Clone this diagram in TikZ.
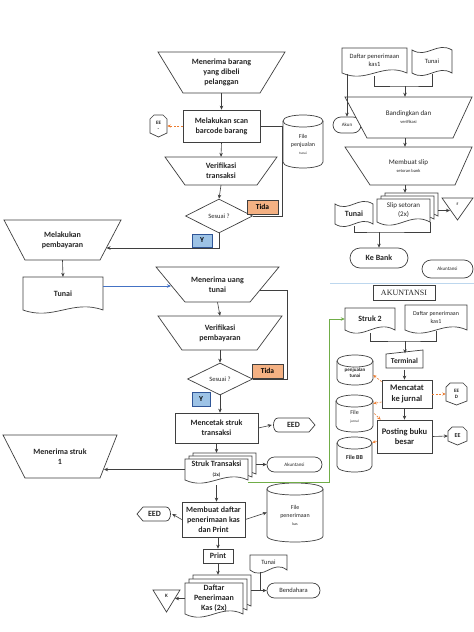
\documentclass[tikz,border=0pt]{standalone}
\usepackage{fontspec}
\setmainfont{Carlito}
\newfontfamily\serifx{Liberation Serif}
\usetikzlibrary{calc,arrows.meta,shapes.geometric,shapes.misc}
\definecolor{lncol}{HTML}{3F3F3F}
\definecolor{orangec}{HTML}{ED7D31}
\definecolor{greenc}{HTML}{70AD47}
\definecolor{bluec}{HTML}{4472C4}
\definecolor{tidac}{HTML}{F4B183}
\definecolor{yfill}{HTML}{9DC3E6}
\definecolor{ybord}{HTML}{2F5597}
\definecolor{sepc}{HTML}{BDD7EE}
\tikzset{
 shp/.style={draw=lncol, line width=0.7pt, fill=white},
 txt/.style={inner sep=0pt, align=center, font=\fontsize{8}{10}\selectfont\bfseries, text=black!85},
 stxt/.style={txt, font=\fontsize{5}{6}\selectfont\bfseries},
 rtxt/.style={txt, font=\fontsize{6.5}{8}\selectfont},
 ctxt/.style={txt, font=\fontsize{6}{8}\selectfont},
 box/.style={shp, txt},
 dia/.style={shp, diamond, inner sep=0pt, align=center, font=\fontsize{6.5}{8}\selectfont, text=black!85},
 term/.style={shp, rounded rectangle, inner sep=0pt, align=center, text=black!85},
 ln/.style={draw=lncol, line width=0.6pt},
 arr/.style={ln, -{Stealth[length=4pt,width=3.5pt]}},
 oarr/.style={draw=orangec, line width=0.6pt, dash pattern=on 2pt off 1.5pt, -{Stealth[length=3.5pt,width=3pt]}},
 garr/.style={draw=greenc, line width=0.9pt, -{Stealth[length=4pt,width=3.5pt]}},
 barr/.style={draw=bluec, line width=0.6pt, -{Stealth[length=4pt,width=3.5pt]}},
 tida/.style={draw=lncol, fill=tidac, line width=0.6pt, inner sep=0pt, font=\fontsize{7.5}{9}\selectfont\bfseries},
 ybox/.style={draw=ybord, fill=yfill, line width=0.6pt, inner sep=0pt, font=\fontsize{7.5}{9}\selectfont\bfseries},
}
% trapezoid: name, xtl, xtr, ytop, xbl, xbr, ybot, style, text
\newcommand\trapz[9]{%
 \draw[shp] (#2,#4) -- (#3,#4) -- (#6,#7) -- (#5,#7) -- cycle;
 \node[txt,#8, minimum width={(#6-#5)*1pt}, minimum height={(#7-#4)*1pt}] (#1) at ({(#2+#3)/2},{(#4+#7)/2}) {#9};}
\newcommand\docpath[4]{%
 \draw[shp] (#1,#2) -- (#3,#2) -- (#3,#4) .. controls ({#1+0.62*(#3-#1)},{#4-11}) and ({#1+0.38*(#3-#1)},{#4+11}) .. (#1,#4) -- cycle;}
\newcommand\docz[7]{%
 \docpath{#2}{#3}{#4}{#5}%
 \node[txt,#6, minimum width={(#4-#2)*1pt}, minimum height={(#5-#3)*1pt}] (#1) at ({(#2+#4)/2},{(#3+#5)/2}) {#7};}
\newcommand\multidoc[9]{%
 \pgfmathsetmacro\mdxa{#2+2*#6}\pgfmathsetmacro\mdya{#3-2*#7}%
 \pgfmathsetmacro\mdxb{#4+2*#6}\pgfmathsetmacro\mdyb{#5-2*#7}%
 \docpath{\mdxa}{\mdya}{\mdxb}{\mdyb}%
 \pgfmathsetmacro\mdxa{#2+#6}\pgfmathsetmacro\mdya{#3-#7}%
 \pgfmathsetmacro\mdxb{#4+#6}\pgfmathsetmacro\mdyb{#5-#7}%
 \docpath{\mdxa}{\mdya}{\mdxb}{\mdyb}%
 \docz{#1}{#2}{#3}{#4}{#5}{#8}{#9}}
\newcommand\tapez[7]{%
 \draw[shp] (#2,#3) .. controls ({#2+0.38*(#4-#2)},{#3+9}) and ({#2+0.62*(#4-#2)},{#3-9}) .. (#4,#3) -- (#4,#5) .. controls ({#2+0.62*(#4-#2)},{#5-9}) and ({#2+0.38*(#4-#2)},{#5+9}) .. (#2,#5) -- cycle;
 \node[txt,#6, minimum width={(#4-#2)*1pt}, minimum height={(#5-#3)*1pt}] (#1) at ({(#2+#4)/2},{(#3+#5)/2}) {#7};}
% cylinder: ellipse half-height 6 drawn with curves
\newcommand\cylz[7]{%
 \draw[shp] (#2,#3+6) -- (#2,#5-6) .. controls (#2,#5+2) and (#4,#5+2) .. (#4,#5-6) -- (#4,#3+6) .. controls (#4,#3-2) and (#2,#3-2) .. (#2,#3+6) -- cycle;
 \draw[shp, fill=none] (#2,#3+6) .. controls (#2,#3+14) and (#4,#3+14) .. (#4,#3+6);
 \node[txt,#6, minimum width={(#4-#2)*1pt}, minimum height={(#5-#3)*1pt}] (#1) at ({(#2+#4)/2},{(#3+#5)/2}) {};
 \node[txt,#6] (#1-t) at ({(#2+#4)/2},{(#3+#5)/2+3}) {#7};}
\newcommand\eeshape[7]{%
 \draw[shp] (#2,#3+4) -- (#2+4,#3) -- (#4-4,#3) -- (#4,#3+4) -- (#4,#5-4) -- ({(#2+#4)/2},#5) -- (#2,#5-4) -- cycle;
 \node[txt,#6, minimum width={(#4-#2)*1pt}, minimum height={(#5-#3)*1pt}] (#1) at ({(#2+#4)/2},{(#3+#5)/2}) {#7};}
\newcommand\eedr[6]{%
 \draw[shp] (#2+6,#3) -- (#4-6,#3) -- (#4,{(#3+#5)/2}) -- (#4-6,#5) -- (#2+6,#5) .. controls (#2,#5) and (#2,#3) .. (#2+6,#3) -- cycle;
 \node[txt, minimum width={(#4-#2)*1pt}, minimum height={(#5-#3)*1pt}] (#1) at ({(#2+#4)/2},{(#3+#5)/2}) {#6};}
\newcommand\eedl[6]{%
 \draw[shp] (#2,{(#3+#5)/2}) -- (#2+6,#3) -- (#4-6,#3) .. controls (#4,#3) and (#4,#5) .. (#4-6,#5) -- (#2+6,#5) -- cycle;
 \node[txt, minimum width={(#4-#2)*1pt}, minimum height={(#5-#3)*1pt}] (#1) at ({(#2+#4)/2},{(#3+#5)/2}) {#6};}
\newcommand\trishape[6]{%
 \draw[shp] (#2,#3) -- (#4,#3) -- ({(#2+#4)/2},#5) -- cycle;
 \node[stxt, minimum width={(#4-#2)*1pt}, minimum height={(#5-#3)*1pt}] (#1) at ({(#2+#4)/2},{(#3+#5)/2}) {};
 \node[stxt] (#1-t) at ({(#2+#4)/2},#3+6) {#6};}
\newcommand\manin[6]{%
 \draw[shp] (#2,#3+4) -- (#4,#3) -- (#4,#5) -- (#2,#5) -- cycle;
 \node[txt, font=\fontsize{7.5}{9}\selectfont\bfseries, minimum width={(#4-#2)*1pt}, minimum height={(#5-#3)*1pt}] (#1) at ({(#2+#4)/2},{(#3+#5)/2+1.5}) {#6};}
\begin{document}
\begin{tikzpicture}[x=1pt,y=-1pt]
\useasboundingbox[fill=white] (0,0) rectangle (474,632);
% ---------------- middle / left column
\trapz{t1}{158}{285}{52}{183}{260}{93}{}{Menerima barang\\yang dibeli\\pelanggan}
\node[box, minimum width=77pt, minimum height=32pt] (scan) at (221.5,126) {Melakukan scan\\barcode barang};
\eeshape{ee1}{150}{115}{167}{137}{stxt}{EE\\-}
\cylz{cyl1}{283}{115}{323}{168}{ctxt}{File\\penjualan\\{\fontsize{3.5}{4}\selectfont tunai}}
\trapz{t2}{165}{277}{157}{185}{257}{185}{}{Verifikasi\\transaksi}
\node[dia, minimum width=67pt, minimum height=34pt] (d1) at (219,216) {Sesuai ?};
\trapz{t3}{4}{121}{220}{25}{100}{260}{}{Melakukan\\pembayaran}
\docz{tunai1}{23}{277}{103}{310}{}{Tunai}
\trapz{t4}{156}{279}{267}{185}{250}{302}{}{Menerima uang\\tunai}
\trapz{t5}{158}{282}{316}{182}{257}{350}{}{Verifikasi\\pembayaran}
\node[dia, minimum width=65pt, minimum height=32pt] (d2) at (220,379) {Sesuai ?};
\node[box, minimum width=83pt, minimum height=30pt] (mcetak) at (216.5,428) {Mencetak struk\\transaksi};
\eedr{eed1}{272}{418}{315}{432}{EED}
\multidoc{struk}{185}{459}{248}{480}{4}{3}{}{Struk Transaksi\\{\fontsize{5}{6}\selectfont (2x)}}
\trapz{t6}{3}{117}{435}{25}{100}{478}{}{Menerima struk\\1}
\node[term, stxt, font=\fontsize{5}{6}\selectfont, minimum width=55pt, minimum height=15pt] (akun1) at (294.5,464.5) {Akuntansi};
\node[box, minimum width=63pt, minimum height=35pt] (mdaftar) at (213.5,519.5) {Membuat daftar\\penerimaan kas\\dan Print};
\cylz{cyl2}{267}{483}{323}{542}{ctxt}{File\\penerimaan\\{\fontsize{4}{5}\selectfont kas}}
\eedl{eed2}{137}{507}{172}{521}{EED}
\node[box, minimum width=30pt, minimum height=14pt] (print) at (218,556) {Print};
\multidoc{daftar}{185}{583}{243}{614}{4}{4}{}{Daftar\\Penerimaan\\Kas (2x)}
\docz{tunai2}{250}{555}{287}{570}{rtxt}{Tunai}
\node[term, rtxt, minimum width=53pt, minimum height=15pt] (bend) at (293.5,590.5) {Bendahara};
\trishape{tri1}{153}{590}{180}{612}{K}
% ---------------- right column
\docz{daftar1}{342}{48}{407}{73}{rtxt}{Daftar penerimaan\\kas1}
\tapez{tunai3}{412}{50}{452}{73}{rtxt}{Tunai}
\node[term, stxt, font=\fontsize{5}{6}\selectfont, minimum width=28pt, minimum height=16pt] (akun0) at (347,125) {Akun};
\trapz{t7}{345}{472}{97}{367}{453}{138}{font=\fontsize{7}{8}\selectfont}{Bandingkan dan\\{\fontsize{4.5}{5}\selectfont verifikasi}}
\trapz{t8}{345}{472}{147}{370}{455}{185}{font=\fontsize{7}{8}\selectfont}{Membuat slip\\{\fontsize{4.5}{5}\selectfont setoran bank}}
\multidoc{slip}{377}{199}{430}{222}{4}{3}{font=\fontsize{7}{9}\selectfont}{Slip setoran\\(2x)}
\trishape{tri2}{442}{198}{473}{220}{r}
\tapez{tunai4}{335}{204}{373}{224}{}{Tunai}
\node[term, txt, minimum width=58pt, minimum height=20pt] (kebank) at (379,258) {Ke Bank};
\node[term, stxt, font=\fontsize{5}{6}\selectfont, minimum width=51pt, minimum height=18pt] (akun2) at (447.5,269) {Akuntansi};
\draw[draw=sepc, line width=1pt] (330,283) -- (474,283);
\node[box, font=\serifx\fontsize{8}{9}\selectfont, minimum width=62pt, minimum height=15pt] (aktbox) at (404,292.5) {AKUNTANSI};
\docz{struk2}{345}{308}{395}{330}{}{Struk 2}
\docz{daftar2}{405}{305}{467}{330}{font=\fontsize{6}{8}\selectfont}{Daftar penerimaan\\kas1}
\manin{term1}{386}{350}{423}{368}{Terminal}
\node[box, font=\fontsize{8.5}{10.5}\selectfont\bfseries, minimum width=50pt, minimum height=28pt] (mcatat) at (407,394) {Mencatat\\ke jurnal};
\cylz{cylpt}{337}{355}{373}{385}{stxt}{penjualan\\tunai}
\cylz{cylfj}{336}{395}{373}{432}{ctxt}{File\\{\fontsize{3.5}{4}\selectfont jurnal}}
\cylz{cylbb}{337}{437}{372}{472}{stxt}{\fontsize{6}{7}\selectfont File BB}
\eeshape{eed3}{446}{383}{467}{405}{stxt}{EE\\D}
\node[box, font=\fontsize{8.5}{10.5}\selectfont\bfseries, minimum width=55pt, minimum height=33pt] (posting) at (404.5,436.5) {Posting buku\\besar};
\eeshape{ee3}{448}{427}{467}{445}{stxt}{\fontsize{6}{7}\selectfont EE}
% ---------------- connectors middle
\draw[arr] (t1.south) -- (scan.north);
\draw[oarr] (scan.west) -- (ee1.east);
\coordinate (lp1) at (282,216);
\draw[ln] (d1.east) -- (lp1) |- (scan.east);
\draw[arr] (scan.south) -- (t2.north);
\draw[arr] (t2.south) -- (d1.north);
\coordinate (t3in) at (106.5,248);
\draw[arr] (d1.south) |- (t3in);
\draw[arr] (t3.south) -- (tunai1.north);
\coordinate (t4in) at (171,286);
\draw[barr] (tunai1.east |- t4in) -- (t4in);
\draw[arr] (t4.south) -- (t5.north);
\coordinate (t4out) at (260,290);
\coordinate (lp2) at (287,379);
\draw[ln] (d2.east) -- (lp2) |- (t4out);
\draw[arr] (t5.south) -- (d2.north);
\draw[arr] (d2.south) -- (d2.south |- mcetak.north);
\draw[arr] (mcetak.east) -- (eed1.west);
\draw[arr] (mcetak.south) -- ($(mcetak.south |- struk.north)+(0,-6)$);
\coordinate (t6in) at (104,469.5);
\draw[arr] (struk.west) -- (t6in);
\draw[arr, shorten <=8pt] (akun1.west -| struk.east) -- (akun1.west);
\coordinate (gc) at (329,482);
\draw[garr] (struk.south east |- gc) -- (gc) |- (struk2.west);
\draw[arr, shorten <=5pt] (struk.south) -- (struk.south |- mdaftar.north);
\draw[arr] (mdaftar.east) -- (cyl2.west);
\draw[arr] (mdaftar.west) -- (eed2.east);
\draw[arr] (print.north |- mdaftar.south) -- (print.north);
\draw[arr] (print.south) -- ($(print.south |- daftar.north)+(0,-8)$);
\coordinate (jn) at (260,590.5);
\draw[ln, shorten <=2pt] (jn |- tunai2.south) -- (jn);
\draw[ln, shorten <=8pt] (jn -| daftar.east) -- (jn);
\draw[arr] (jn) -- (bend.west);
\coordinate (tri1in) at (175,598.5);
\draw[arr] (daftar.west) -- (tri1in);
% ---------------- connectors right
\coordinate (br1) at (405,86);
\draw[ln] ($(daftar1.south)+(0,3)$) |- (br1) -| ($(tunai3.south)+(0,1)$);
\draw[arr] (br1) -- (br1 |- t7.north);
\draw[arr] ($(akun0.north |- daftar1.south)+(0,1)$) -- (akun0.north);
\draw[arr] (t7.south -| br1) -- (t8.north -| br1);
\draw[arr] (t8.south -| br1) -- ($(br1 |- slip.north)+(0,-6)$);
\coordinate (tri2in) at (450,210.5);
\draw[arr, shorten <=8pt] (slip.east) -- (tri2in);
\coordinate (br2) at (379,232);
\draw[ln] ($(tunai4.south)+(0,2)$) |- (br2) -| (slip.south east);
\draw[arr] (br2) -- (br2 |- kebank.north);
\coordinate (br3) at (405,341);
\draw[ln] ($(struk2.south)+(0,3)$) |- (br3) -| ($(daftar2.south)+(0,1)$);
\draw[arr] (br3) -- ($(br3 |- term1.north)+(0,2)$);
\draw[arr] (term1.south) -- (term1.south |- mcatat.north);
\draw[arr] (posting.north |- mcatat.south) -- (posting.north);
\draw[arr] (posting.east) -- (ee3.west);
\draw[oarr] (mcatat.east) -- (eed3.west);
\draw[oarr] ($(mcatat.north west)+(0,2)$) -- ($(cylpt.east)+(0,5)$);
\draw[oarr] ($(mcatat.west)+(0,8)$) -- ($(cylfj.east)+(0,-10)$);
\draw[oarr] ($(cylfj.east)+(1,0)$) -- ($(posting.north west)+(4,0)$);
\draw[oarr] ($(posting.west)+(0,5)$) -- ($(cylbb.east)+(0,-12)$);
% ---------------- labels
\node[tida, minimum width=31pt, minimum height=14pt] (tida1) at (262.5,207) {Tida};
\node[ybox, minimum width=20pt, minimum height=13pt] (y1) at (202,240.5) {Y};
\node[tida, minimum width=31pt, minimum height=14pt] (tida2) at (267.5,371) {Tida};
\node[ybox, minimum width=18pt, minimum height=14pt] (y2) at (201,399) {Y};
\end{tikzpicture}
\end{document}
